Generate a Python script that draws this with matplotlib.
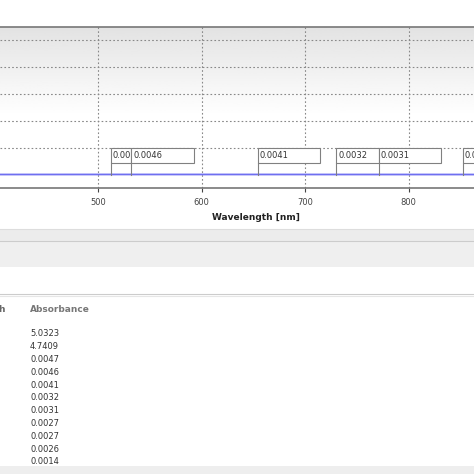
import numpy as np
import matplotlib
matplotlib.use("Agg")
import matplotlib.pyplot as plt
from matplotlib.patches import Rectangle

# peaks picked in the visible window (wavelength, absorbance)
peak_wl = [512, 532, 654, 730, 771, 852]
peak_abs = [0.0047, 0.0046, 0.0041, 0.0032, 0.0031, 0.0027]
# absorbance column of the peak table
table_abs = ["5.0323", "4.7409", "0.0047", "0.0046", "0.0041", "0.0032",
             "0.0031", "0.0027", "0.0027", "0.0026", "0.0014"]
x_ticks = [500, 600, 700, 800]

W = H = 474
fig = plt.figure(figsize=(4.74, 4.74), dpi=100)
fig.patch.set_facecolor("white")

def fy(py):
    return 1 - py / H

ax = fig.add_axes([0, fy(188), 1, (188 - 27) / H])
ax.set_xlim(405, 863)
ax.set_ylim(-0.5, 5.5)

# background gradient, grey at top fading to white
g = np.ones((100, 1))
g[:55, 0] = np.linspace(0.89, 1.0, 55)
ax.imshow(g, cmap="gray", vmin=0, vmax=1, aspect="auto", origin="upper",
          extent=[405, 863, -0.5, 5.5], zorder=0)

for v in x_ticks:
    ax.axvline(v, color="#888888", ls=(0, (1.5, 2)), lw=0.8, zorder=1)
for v in [1, 2, 3, 4, 5]:
    ax.axhline(v, color="#888888", ls=(0, (1.5, 2)), lw=0.8, zorder=1)

ax.plot([405] + peak_wl + [863], [0.003] + peak_abs + [0.002],
        color="#6f6ff0", lw=1.3, zorder=3)

for i, (w, a) in enumerate(zip(peak_wl, peak_abs)):
    nxt = peak_wl[i + 1] if i + 1 < len(peak_wl) else 1e9
    bw = min(60, nxt - w)
    ax.add_patch(Rectangle((w, 0.45), bw, 0.55, fill=True, fc="white",
                           ec="#808080", lw=0.8, zorder=4))
    ax.plot([w, w], [0, 0.45], color="#808080", lw=0.8, zorder=4)
    label = f"{a:.4f}"
    if bw < 30:
        label = label[:4]  # box too narrow, label is cut like in the app
    ax.text(w + 2, 0.72, label, fontsize=6, va="center", ha="left",
            color="#333333", zorder=5)

ax.set_xticks(x_ticks)
ax.set_yticks([])
ax.tick_params(axis="x", labelsize=6, colors="#444444", length=3,
               direction="out", pad=4)
for s in ["left", "right"]:
    ax.spines[s].set_visible(False)
for s in ["top", "bottom"]:
    ax.spines[s].set_color("#777777")
    ax.spines[s].set_linewidth(1.2)

fig.text(256 / W, fy(218), "Wavelength [nm]", fontsize=6.5, fontweight="bold",
         ha="center", va="center", color="#222222")

# lower panels
fig.patches.append(Rectangle((0, fy(241)), 1, (241 - 229) / H,
                             transform=fig.transFigure, fc="#ececec", ec="none"))
fig.patches.append(Rectangle((0, fy(267)), 1, (267 - 241) / H,
                             transform=fig.transFigure, fc="#efefef", ec="none"))
for py, c in [(229, "#dddddd"), (241, "#cccccc"), (294, "#cccccc"), (296, "#e6e6e6")]:
    fig.add_artist(plt.Line2D([0, 1], [fy(py), fy(py)], color=c, lw=0.8,
                              transform=fig.transFigure))
fig.patches.append(Rectangle((0, 0), 1, 8 / H, transform=fig.transFigure,
                             fc="#eeeeee", ec="none"))

fig.text(-2 / W, fy(309), "h", fontsize=6.5, color="#666666", va="center",
         fontweight="bold")
fig.text(30 / W, fy(309), "Absorbance", fontsize=6.5, color="#777777",
         va="center", fontweight="bold")
for i, s in enumerate(table_abs):
    fig.text(30 / W, fy(334 + i * 12.8), s, fontsize=6, color="#333333",
             va="center")

fig.savefig("out.png", dpi=100)
